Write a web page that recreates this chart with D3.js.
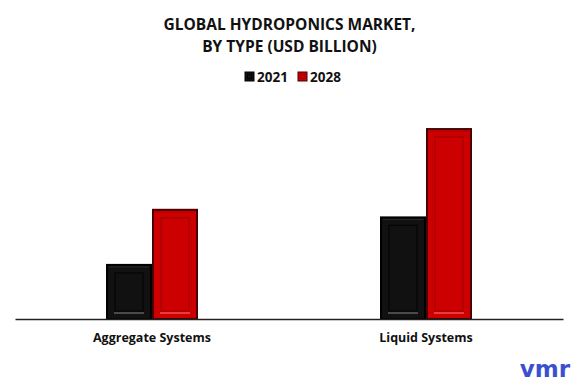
<!DOCTYPE html>
<html>
<head>
<meta charset="utf-8">
<script src="https://cdn.jsdelivr.net/npm/d3@7"></script>
<style>
  body { margin: 0; background: #fff; }
  text { font-family: "Open Sans", sans-serif; }
</style>
</head>
<body>
<svg id="chart" width="579" height="385"></svg>
<script>
// chart data
var categories = ["Aggregate Systems", "Liquid Systems"];
var seriesNames = ["2021", "2028"];
var values2021 = [2.9, 5.4];
var values2028 = [5.8, 10.05];

var colors = { "2021": "#111111", "2028": "#cc0000" };
var borders = { "2021": "#000000", "2028": "#4a0000" };
var inner = { "2021": "#050505", "2028": "#a20000" };
var shine = { "2021": "#4a4a4a", "2028": "#f03a3a" };

var svg = d3.select("#chart"),
    width = +svg.attr("width"),
    height = +svg.attr("height");

var margin = { left: 15, right: 16, top: 90, bottom: 66 };
var baseY = height - margin.bottom;

var x0 = d3.scaleBand()
    .domain(categories)
    .range([margin.left, width - margin.right])
    .padding(0);

var groupW = 92;
var x1 = d3.scaleBand()
    .domain(seriesNames)
    .range([0, groupW])
    .padding(0);

var y = d3.scaleLinear()
    .domain([0, 12])
    .range([baseY, baseY - 228]);

// title
svg.append("text")
    .attr("x", width / 2).attr("y", 30)
    .attr("text-anchor", "middle")
    .style("font-size", "15.5px").style("font-weight", "bold").attr("fill", "#111")
    .text("GLOBAL HYDROPONICS MARKET,");
svg.append("text")
    .attr("x", width / 2).attr("y", 52)
    .attr("text-anchor", "middle")
    .style("font-size", "15.5px").style("font-weight", "bold").attr("fill", "#111")
    .text("BY TYPE (USD BILLION)");

// legend
var legend = svg.append("g").attr("transform", "translate(245,72)");
seriesNames.forEach(function(s, i) {
  var lg = legend.append("g").attr("transform", "translate(" + (i * 53) + ",0)");
  lg.append("rect").attr("width", 9).attr("height", 9)
    .attr("fill", colors[s]).attr("stroke", borders[s]).attr("stroke-width", 1);
  lg.append("rect").attr("x", 2.5).attr("y", 2.5).attr("width", 4).attr("height", 4)
    .attr("fill", "none").attr("stroke", inner[s]).attr("stroke-width", 1);
  lg.append("text").attr("x", 12).attr("y", 10)
    .style("font-size", "13.5px").style("font-weight", "bold").attr("fill", "#111")
    .text(s);
});

// bars
var rows = [];
categories.forEach(function(c, i) {
  rows.push({ cat: c, series: "2021", value: values2021[i] });
  rows.push({ cat: c, series: "2028", value: values2028[i] });
});

var bars = svg.append("g").selectAll("g")
  .data(rows)
  .enter().append("g")
    .attr("transform", function(d) {
      return "translate(" + (x0(d.cat) + x0.bandwidth() / 2 - groupW / 2 + x1(d.series)) + "," + y(d.value) + ")";
    });

bars.append("rect")
    .attr("x", 1).attr("y", 1)
    .attr("width", x1.bandwidth() - 2)
    .attr("height", function(d) { return baseY - y(d.value) - 1; })
    .attr("fill", function(d) { return colors[d.series]; })
    .attr("stroke", function(d) { return borders[d.series]; })
    .attr("stroke-width", 2);

bars.append("rect")
    .attr("x", 9).attr("y", 9)
    .attr("width", x1.bandwidth() - 18)
    .attr("height", function(d) { return Math.max(0, baseY - y(d.value) - 17); })
    .attr("fill", "none")
    .attr("stroke", function(d) { return inner[d.series]; })
    .attr("stroke-width", 1.2);

bars.append("line")
    .attr("x1", 8).attr("x2", x1.bandwidth() - 8)
    .attr("y1", function(d) { return baseY - y(d.value) - 6; })
    .attr("y2", function(d) { return baseY - y(d.value) - 6; })
    .attr("stroke", function(d) { return shine[d.series]; })
    .attr("stroke-width", 2);

bars.append("line")
    .attr("x1", 3).attr("x2", x1.bandwidth() - 3)
    .attr("y1", 3).attr("y2", 3)
    .attr("stroke", function(d) { return d.series === "2021" ? "#2a2a2a" : "#b00000"; })
    .attr("stroke-width", 1);

// x axis
var xAxis = svg.append("g")
    .attr("transform", "translate(0," + baseY + ")")
    .call(d3.axisBottom(x0).tickSize(0).tickPadding(14));
xAxis.select(".domain").attr("stroke", "#222").attr("stroke-width", 1.5);
xAxis.selectAll("text")
    .style("font-family", "'Open Sans', sans-serif")
    .style("font-size", "12.5px").style("font-weight", "bold").attr("fill", "#111");

// logo
svg.append("text")
    .attr("x", 545).attr("y", 377)
    .attr("text-anchor", "middle")
    .style("font-family", "'DejaVu Sans', sans-serif")
    .style("font-size", "23px").style("font-weight", "bold")
    .attr("fill", "#3b4fcf")
    .text("vmr");
</script>
</body>
</html>
